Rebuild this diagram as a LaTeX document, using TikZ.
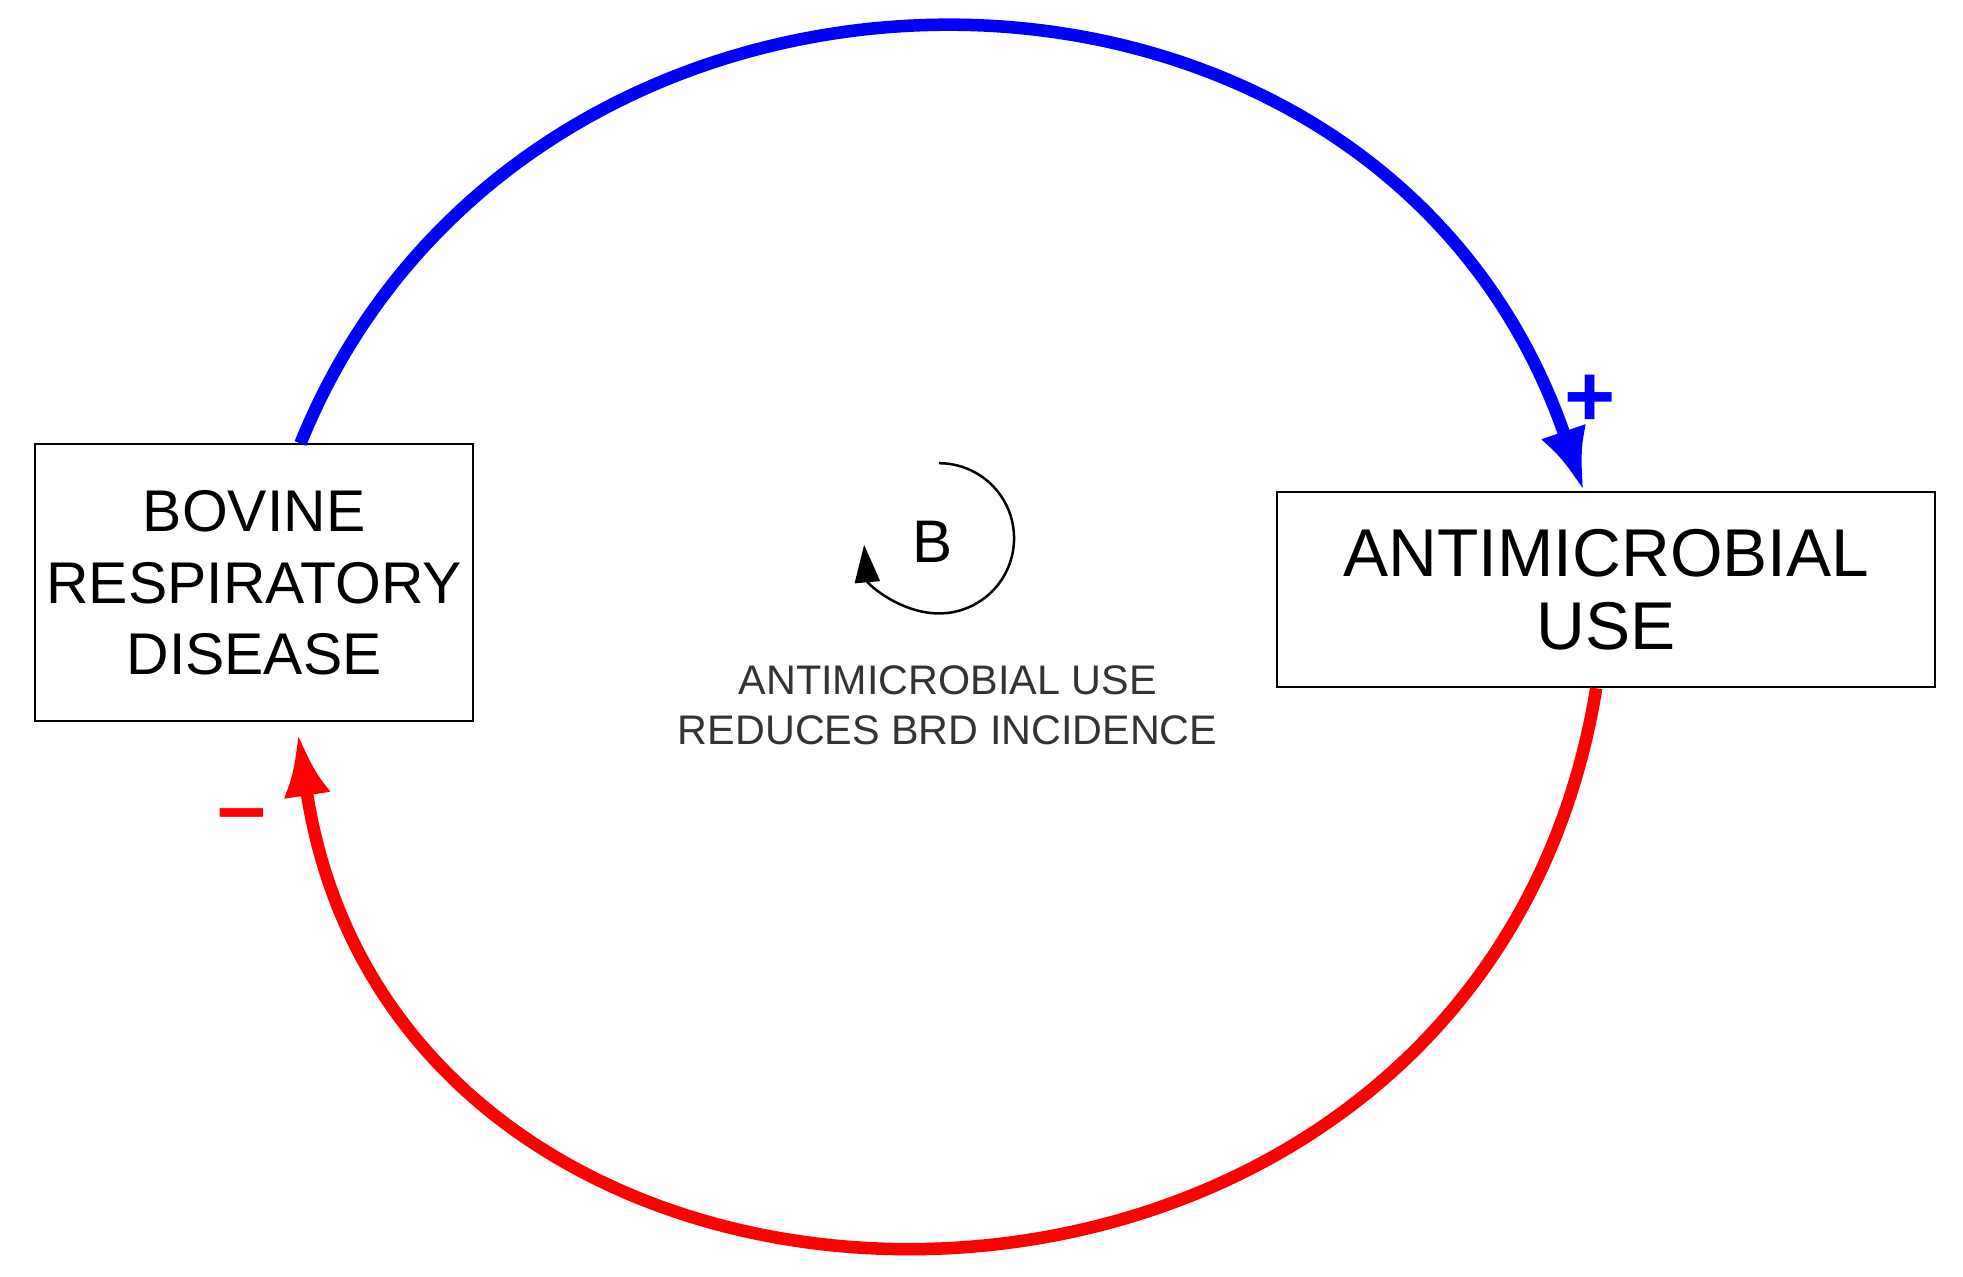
\documentclass[tikz,border=0pt]{standalone}
\usepackage{fontspec}
\setmainfont{Liberation Sans}
\usetikzlibrary{arrows.meta}
\definecolor{lb}{RGB}{0,0,255}
\definecolor{lr}{RGB}{255,0,0}
\begin{document}
\begin{tikzpicture}[x=1pt,y=1pt,
  box/.style={draw,line width=1.6pt,align=center,inner sep=0},
  link/.style={line width=10pt,-{Latex[length=50pt,width=38pt]}}]
\useasboundingbox (0,0) rectangle (1568,1020);
\node[box,minimum width=350pt,minimum height=221pt,font=\fontsize{47}{57}\selectfont] (L) at (203,554.5) {BOVINE\\RESPIRATORY\\DISEASE};
\node[box,minimum width=526pt,minimum height=156pt,font=\fontsize{54}{58}\selectfont] (R) at (1283,549) {ANTIMICROBIAL\\USE};
\coordinate (bs) at ([xshift=37pt]L.north);
\coordinate (be) at ([xshift=-18pt]R.north);
\coordinate (rs) at ([xshift=-8pt]R.south);
\coordinate (re) at ([xshift=35pt,yshift=-9pt]L.south);
\draw[link,lb] (bs) .. controls (420,1111) and (1100,1111) .. (be);
\draw[link,lr] (rs) .. controls (1180,-113) and (320,-113) .. (re);
\node[text=lb,font=\fontsize{70}{70}\selectfont\bfseries] (plus) at (1270,700) {+};
\node[text=lr,font=\fontsize{70}{70}\selectfont\bfseries] (minus) at (193,363) {--};
\node[font=\fontsize{48}{48}\selectfont] (B) at (745,587) {B};
\draw[line width=2pt,-{Triangle[length=30pt,width=20pt]}] (750,650) arc[start angle=90,end angle=-175,radius=60];
\node[align=center,font=\fontsize{33}{40}\selectfont,text=black!80] (txt) at (757,457) {ANTIMICROBIAL USE\\REDUCES BRD INCIDENCE};
\end{tikzpicture}
\end{document}
